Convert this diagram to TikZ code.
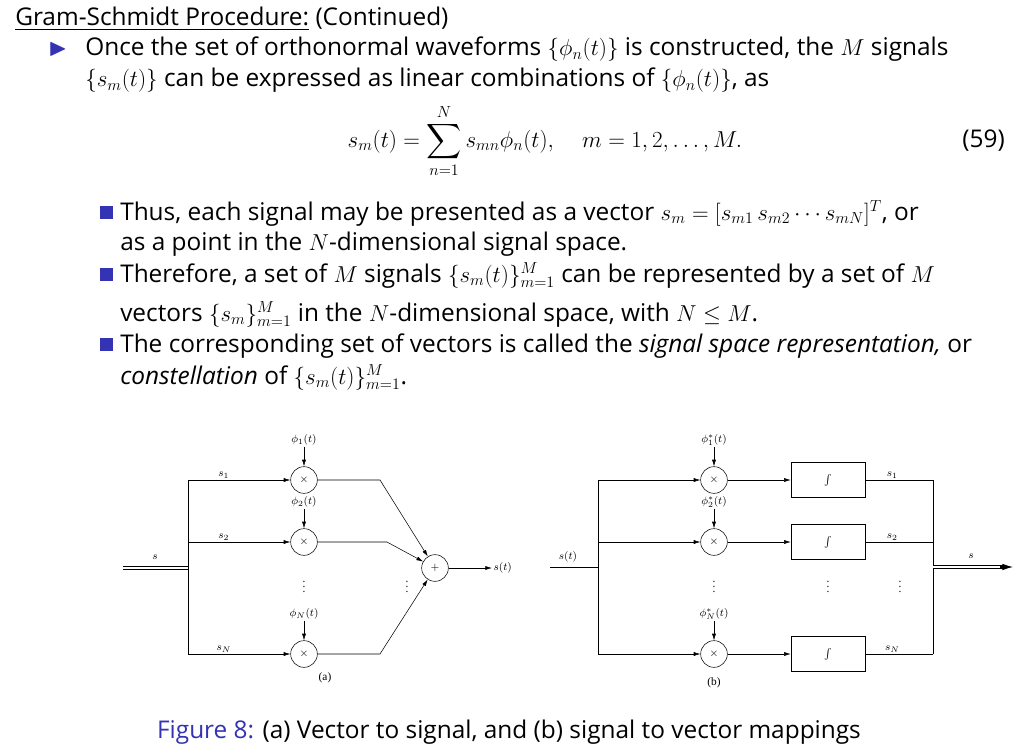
\documentclass[tikz,border=0pt]{standalone}
\usepackage{amssymb}
\usepackage{fontspec}
\setmainfont{Open Sans}
\newfontfamily\figfont{Liberation Serif}
\usetikzlibrary{arrows.meta}
\definecolor{bblue}{RGB}{51,51,179}
\begin{document}
\begin{tikzpicture}[x=0.75pt,y=-0.75pt,
  txt/.style={anchor=base west,inner sep=0pt,font=\fontsize{18.3}{20}\selectfont},
  fl/.style={font=\fontsize{8.5}{9}\selectfont\figfont,inner sep=1pt},
  dts/.style={font=\fontsize{8}{8}\selectfont,inner sep=0pt},
  mult/.style={circle,draw,minimum size=20,inner sep=0pt,font=\fontsize{8}{8}\selectfont},
  intb/.style={draw,minimum width=55.5pt,minimum height=26pt,font=\fontsize{8}{8}\selectfont},
  arr/.style={-{Latex[length=5pt,width=3pt]},thin},
  ln/.style={thin}]
\useasboundingbox (0,0) rectangle (1024,749);
% text
\node[txt] (title) at (15,26) {\underline{Gram-Schmidt Procedure:} (Continued)};
\node[txt,text=bblue] (tri) at (48,56) {$\blacktriangleright$};
\node[txt] (l1) at (85,56) {Once the set of orthonormal waveforms $\{\phi_n(t)\}$ is constructed, the $M$ signals};
\node[txt] (l2) at (85,87) {$\{s_m(t)\}$ can be expressed as linear combinations of $\{\phi_n(t)\}$, as};
\node[anchor=center,inner sep=0pt,font=\fontsize{18.3}{20}\selectfont] (eq) at (545,141) {$\displaystyle s_m(t)=\sum_{n=1}^{N} s_{mn}\phi_n(t),\quad m=1,2,\ldots,M.$};
\node[txt,anchor=base east] (eqn) at (1005,147) {(59)};
\foreach \y/\n in {220/b1,282/b2,352/b3}
  \fill[bblue] (100,\y-14) rectangle ++(13,13);
\node[txt] at (120,220) {Thus, each signal may be presented as a vector $s_m=[s_{m1}\,s_{m2}\cdots s_{mN}]^T$, or};
\node[txt] at (120,250) {as a point in the $N$-dimensional signal space.};
\node[txt] at (120,282) {Therefore, a set of $M$ signals $\{s_m(t)\}_{m=1}^M$ can be represented by a set of $M$};
\node[txt] at (120,321) {vectors $\{s_m\}_{m=1}^M$ in the $N$-dimensional space, with $N\le M$.};
\node[txt] at (120,352) {The corresponding set of vectors is called the \textit{signal space representation,} or};
\node[txt] at (120,384) {\textit{constellation} of $\{s_m(t)\}_{m=1}^M$.};
\node[txt,anchor=base] (cap) at (509,738) {\textcolor{bblue}{Figure 8:} (a) Vector to signal, and (b) signal to vector mappings};
% ---------- (a)
\coordinate (ain) at (123,568);
\coordinate (asp) at (188,568);
\draw[double,double distance=1.5pt,thin] (ain) -- (asp);
\node[fl] at (155,557) {$s$};
\coordinate (at1) at (188,480); \coordinate (atN) at (188,654);
\draw[ln] (at1) -- (atN);
\foreach \r/\y/\lab/\ph/\bx in {1/480/s_1/\phi_1(t)/380,2/542/s_2/\phi_2(t)/387,N/654/s_N/\phi_N(t)/380}{
  \node[mult] (am\r) at (304,\y) {$\times$};
  \node[fl] (ap\r) at (304,\y-40) {$\ph$};
  \draw[arr] (ap\r) -- (am\r);
  \draw[arr] (188,\y) -- node[fl,above,pos=0.35] {$\lab$} (am\r);
  \coordinate (ab\r) at (\bx,\y);
}
\node[mult] (sum) at (435,568) {$+$};
\foreach \r in {1,2,N} \draw[arr] (am\r) -- (ab\r) -- (sum);
\node[fl,anchor=west] (aout) at (492,568) {$s(t)$};
\draw[arr] (sum) -- (aout.west);
\node[dts] at (304,583) {$\vdots$};
\node[dts] at (407,583) {$\vdots$};
\node[fl] at (325,678) {(a)};
% ---------- (b)
\coordinate (bin) at (550,567);
\coordinate (bsp) at (598,567);
\draw[ln] (bin) -- (bsp);
\node[fl] at (568,557) {$s(t)$};
\draw[ln] (598,480) -- (598,654);
\draw[ln] (933,480) -- (933,654);
\foreach \r/\y/\lab/\ph in {1/480/s_1/\phi_1^*(t),2/542/s_2/\phi_2^*(t),N/654/s_N/\phi_N^*(t)}{
  \node[mult] (bm\r) at (714,\y) {$\times$};
  \node[fl] (bp\r) at (714,\y-40) {$\ph$};
  \draw[arr] (bp\r) -- (bm\r);
  \draw[arr] (598,\y) -- (bm\r);
  \node[intb] (bi\r) at (828,\y) {$\int$};
  \draw[arr] (bm\r) -- (bi\r);
  \draw[ln] (bi\r) -- node[fl,above,pos=0.4] {$\lab$} (933,\y);
}
\coordinate (bout) at (1013,567);
\draw[double,double distance=1.5pt,thin] (933,567) -- (1005,567);
\draw[-{Latex[length=8pt,width=5pt]},thick] (1000,567) -- (bout);
\node[fl] at (971,556) {$s$};
\node[dts] at (714,583) {$\vdots$};
\node[dts] at (828,583) {$\vdots$};
\node[dts] at (900,583) {$\vdots$};
\node[fl] at (714,683) {(b)};
\end{tikzpicture}
\end{document}
